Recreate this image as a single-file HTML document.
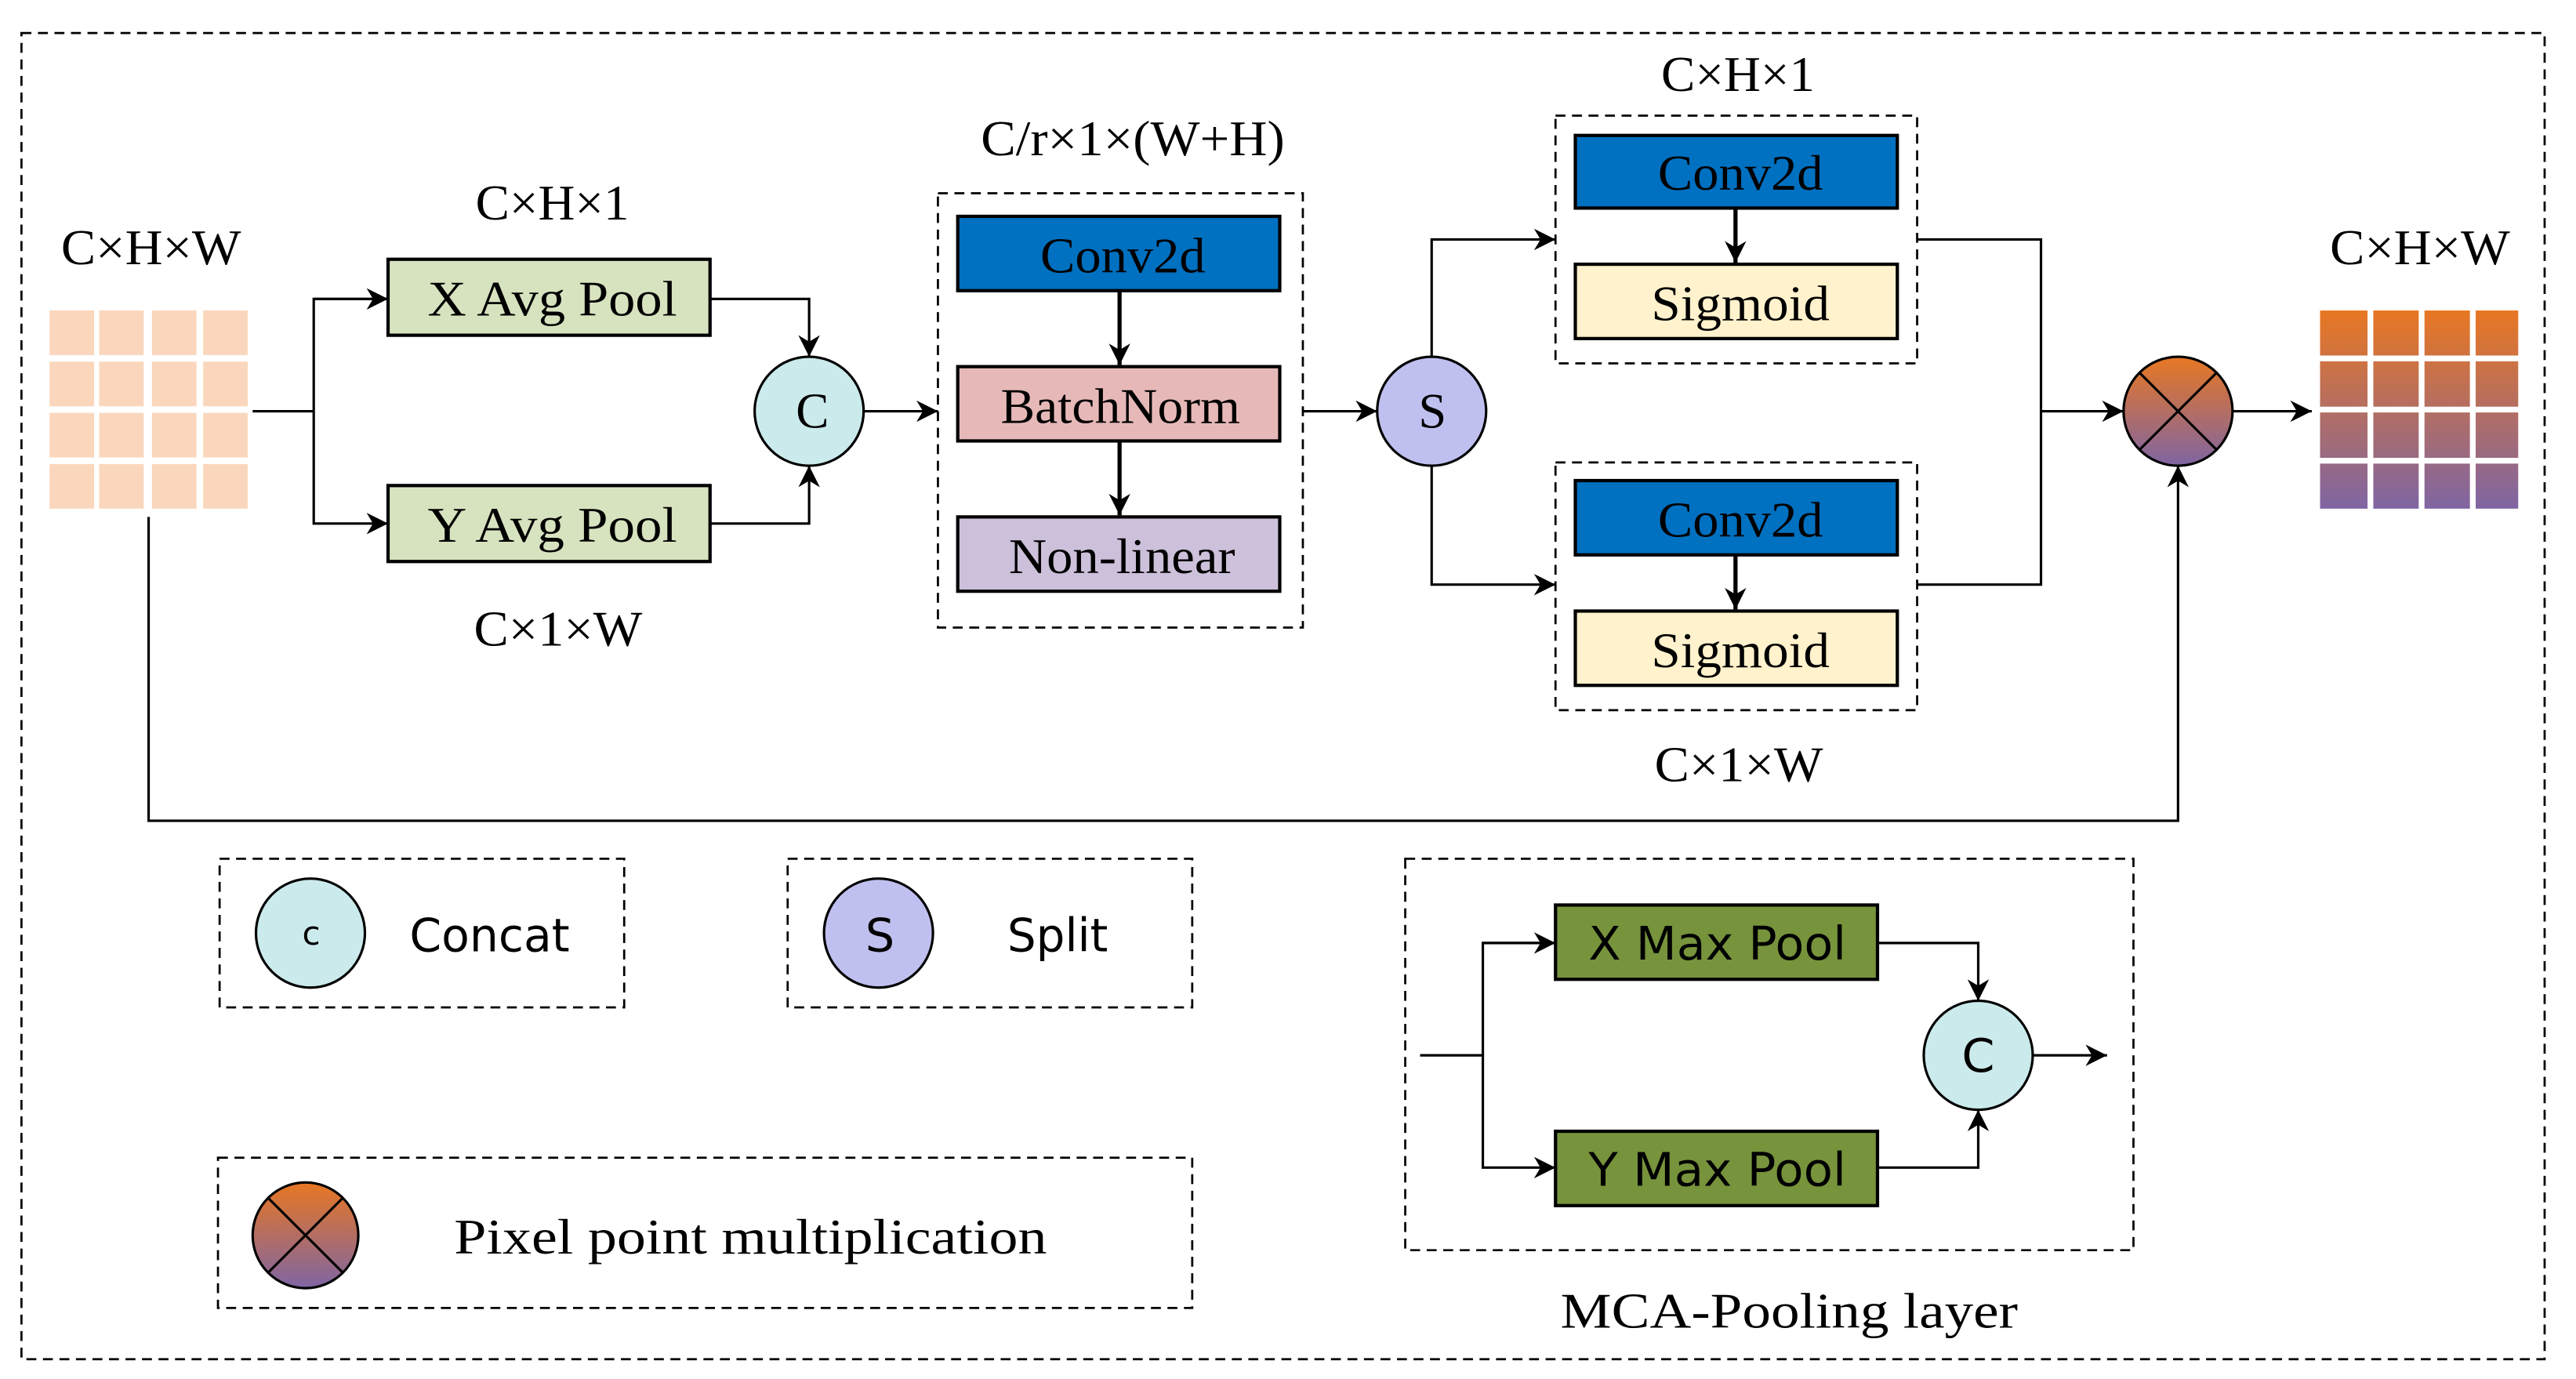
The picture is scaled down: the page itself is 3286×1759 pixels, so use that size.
<!DOCTYPE html>
<html><head><meta charset="utf-8"><style>html,body{margin:0;padding:0;background:#fff}svg{display:block}</style></head><body>
<svg width="3286" height="1759" viewBox="0 0 1560 835" preserveAspectRatio="none" xmlns="http://www.w3.org/2000/svg">
<defs>
<marker id="a" viewBox="0 0 10 10" refX="10" refY="5" markerWidth="13" markerHeight="13" markerUnits="userSpaceOnUse" orient="auto"><path d="M0,0 L10,5 L0,10 L3,5 z" fill="#000"/></marker>
<linearGradient id="g" x1="0" y1="0" x2="0" y2="1"><stop offset="0" stop-color="#E87722"/><stop offset="1" stop-color="#7F65A3"/></linearGradient>
</defs>
<g fill="none" stroke="#000" stroke-width="1.3" stroke-dasharray="6,4">
<rect x="13" y="20" width="1528" height="803"/>
<rect x="568" y="117" width="221" height="263"/>
<rect x="942" y="70" width="219" height="150"/>
<rect x="942" y="280" width="219" height="150"/>
<rect x="133" y="520" width="245" height="90"/>
<rect x="477" y="520" width="245" height="90"/>
<rect x="132" y="701" width="590" height="91"/>
<rect x="851" y="520" width="441" height="237"/>
</g>
<g fill="#FAD7BC">
<rect x="30" y="188" width="27" height="27"/><rect x="60" y="188" width="27" height="27"/><rect x="92" y="188" width="27" height="27"/><rect x="123" y="188" width="27" height="27"/>
<rect x="30" y="219" width="27" height="27"/><rect x="60" y="219" width="27" height="27"/><rect x="92" y="219" width="27" height="27"/><rect x="123" y="219" width="27" height="27"/>
<rect x="30" y="250" width="27" height="27"/><rect x="60" y="250" width="27" height="27"/><rect x="92" y="250" width="27" height="27"/><rect x="123" y="250" width="27" height="27"/>
<rect x="30" y="281" width="27" height="27"/><rect x="60" y="281" width="27" height="27"/><rect x="92" y="281" width="27" height="27"/><rect x="123" y="281" width="27" height="27"/>
</g>
<g fill="url(#g)">
<rect x="1405" y="188" width="120" height="120"/>
</g>
<g stroke="#fff" stroke-width="3.5">
<line x1="1435.5" y1="186" x2="1435.5" y2="310"/><line x1="1466.5" y1="186" x2="1466.5" y2="310"/><line x1="1497.5" y1="186" x2="1497.5" y2="310"/>
<line x1="1403" y1="217" x2="1527" y2="217"/><line x1="1403" y1="248" x2="1527" y2="248"/><line x1="1403" y1="279" x2="1527" y2="279"/>
</g>
<g fill="none" stroke="#000" stroke-width="1.5">
<polyline points="153,249 190,249"/>
<polyline points="235,181 190,181 190,317 235,317" marker-end="url(#a)"/>
<line x1="190" y1="181" x2="235" y2="181" marker-end="url(#a)"/>
<polyline points="430,181 490,181 490,216" marker-end="url(#a)"/>
<polyline points="430,317 490,317 490,282" marker-end="url(#a)"/>
<line x1="523" y1="249" x2="568" y2="249" marker-end="url(#a)"/>
<line x1="789" y1="249" x2="834" y2="249" marker-end="url(#a)"/>
<polyline points="867,216 867,145 942,145" marker-end="url(#a)"/>
<polyline points="867,282 867,354 942,354" marker-end="url(#a)"/>
<polyline points="1161,145 1236,145 1236,354 1161,354"/>
<line x1="1236" y1="249" x2="1286" y2="249" marker-end="url(#a)"/>
<line x1="1352" y1="249" x2="1400" y2="249" marker-end="url(#a)"/>
<polyline points="90,313 90,497 1319,497 1319,282" marker-end="url(#a)"/>
<line x1="860" y1="639" x2="898" y2="639"/>
<polyline points="942,571 898,571 898,707 942,707" marker-end="url(#a)"/>
<line x1="898" y1="571" x2="942" y2="571" marker-end="url(#a)"/>
<polyline points="1137,571 1198,571 1198,606" marker-end="url(#a)"/>
<polyline points="1137,707 1198,707 1198,672" marker-end="url(#a)"/>
<line x1="1231" y1="639" x2="1276" y2="639" marker-end="url(#a)"/>
</g>
<g stroke="#000" stroke-width="2.5" fill="none">
<line x1="678" y1="176" x2="678" y2="221" marker-end="url(#a)"/>
<line x1="678" y1="267" x2="678" y2="312" marker-end="url(#a)"/>
<line x1="1051" y1="126" x2="1051" y2="159" marker-end="url(#a)"/>
<line x1="1051" y1="336" x2="1051" y2="369" marker-end="url(#a)"/>
</g>
<g stroke="#000" stroke-width="2">
<rect x="235" y="157" width="195" height="46" fill="#D7E3BF"/>
<rect x="235" y="294" width="195" height="46" fill="#D7E3BF"/>
<rect x="580" y="131" width="195" height="45" fill="#0070C0"/>
<rect x="580" y="222" width="195" height="45" fill="#E6B9B8"/>
<rect x="580" y="313" width="195" height="45" fill="#CCC0DA"/>
<rect x="954" y="82" width="195" height="44" fill="#0070C0"/>
<rect x="954" y="160" width="195" height="45" fill="#FFF2CC"/>
<rect x="954" y="291" width="195" height="45" fill="#0070C0"/>
<rect x="954" y="370" width="195" height="45" fill="#FFF2CC"/>
<rect x="942" y="548" width="195" height="45" fill="#77933C"/>
<rect x="942" y="685" width="195" height="45" fill="#77933C"/>
</g>
<g stroke="#000" stroke-width="1.5">
<circle cx="490" cy="249" r="33" fill="#CBEAEB"/>
<circle cx="867" cy="249" r="33" fill="#C0C0F0"/>
<circle cx="1319" cy="249" r="33" fill="url(#g)"/>
<line x1="1296" y1="226" x2="1342" y2="272"/><line x1="1342" y1="226" x2="1296" y2="272"/>
<circle cx="188" cy="565" r="33" fill="#CBEAEB"/>
<circle cx="532" cy="565" r="33" fill="#C0C0F0"/>
<circle cx="185" cy="748" r="32" fill="url(#g)"/>
<line x1="162" y1="725" x2="208" y2="771"/><line x1="208" y1="725" x2="162" y2="771"/>
<circle cx="1198" cy="639" r="33" fill="#CBEAEB"/>
</g>
<g font-family="Liberation Serif, serif" font-size="30" fill="#000" lengthAdjust="spacingAndGlyphs">
<text x="37" y="160" textLength="109" lengthAdjust="spacingAndGlyphs">C×H×W</text>
<text x="288" y="133" textLength="93" lengthAdjust="spacingAndGlyphs">C×H×1</text>
<text x="287" y="391" textLength="102" lengthAdjust="spacingAndGlyphs">C×1×W</text>
<text x="594" y="94" textLength="184" lengthAdjust="spacingAndGlyphs">C/r×1×(W+H)</text>
<text x="1006" y="55" textLength="93" lengthAdjust="spacingAndGlyphs">C×H×1</text>
<text x="1002" y="473" textLength="102" lengthAdjust="spacingAndGlyphs">C×1×W</text>
<text x="1411" y="160" textLength="109" lengthAdjust="spacingAndGlyphs">C×H×W</text>
<text x="259" y="191" textLength="151" lengthAdjust="spacingAndGlyphs">X Avg Pool</text>
<text x="259" y="328" textLength="151" lengthAdjust="spacingAndGlyphs">Y Avg Pool</text>
<text x="630" y="165" textLength="100" lengthAdjust="spacingAndGlyphs">Conv2d</text>
<text x="606" y="256" textLength="145" lengthAdjust="spacingAndGlyphs">BatchNorm</text>
<text x="611" y="347" textLength="137" lengthAdjust="spacingAndGlyphs">Non-linear</text>
<text x="1004" y="115" textLength="100" lengthAdjust="spacingAndGlyphs">Conv2d</text>
<text x="1000" y="194" textLength="108" lengthAdjust="spacingAndGlyphs">Sigmoid</text>
<text x="1004" y="325" textLength="100" lengthAdjust="spacingAndGlyphs">Conv2d</text>
<text x="1000" y="404" textLength="108" lengthAdjust="spacingAndGlyphs">Sigmoid</text>
<text x="482" y="259" textLength="20" lengthAdjust="spacingAndGlyphs">C</text>
<text x="859" y="259" textLength="17" lengthAdjust="spacingAndGlyphs">S</text>
<text x="275" y="759" textLength="359" lengthAdjust="spacingAndGlyphs">Pixel point multiplication</text>
<text x="945" y="804" textLength="277" lengthAdjust="spacingAndGlyphs">MCA-Pooling layer</text>
</g>
<g font-family="DejaVu Sans, Liberation Sans, sans-serif" font-size="28" fill="#000">
<text x="962" y="581" textLength="156" lengthAdjust="spacingAndGlyphs">X Max Pool</text>
<text x="962" y="718" textLength="156" lengthAdjust="spacingAndGlyphs">Y Max Pool</text>
<text x="1188" y="649" textLength="20" lengthAdjust="spacingAndGlyphs">C</text>
<text x="248" y="576" textLength="97" lengthAdjust="spacingAndGlyphs">Concat</text>
<text x="610" y="576" textLength="61" lengthAdjust="spacingAndGlyphs">Split</text>
<text x="183" y="572" font-size="20">c</text>
<text x="524" y="576">S</text>
</g>
</svg>
</body></html>
